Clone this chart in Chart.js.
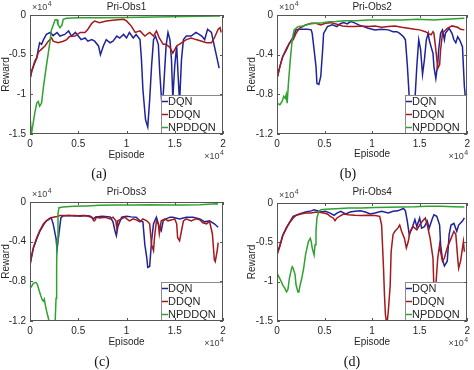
<!DOCTYPE html>
<html>
<head>
<meta charset="utf-8">
<script src="https://cdn.jsdelivr.net/npm/chart.js@4.4.1/dist/chart.umd.min.js"></script>
<style>
  html, body { margin: 0; padding: 0; background: #fff; }
  #wrap { position: relative; width: 474px; height: 370px; overflow: hidden; }
  canvas { position: absolute; }
  .cap { position: absolute; transform: translate(-50%, -50%); font-family: "Liberation Serif", "DejaVu Serif", serif; font-size: 14px; color: #111; }
</style>
</head>
<body>
<div id="wrap">
  <canvas id="cA" width="237" height="185" style="left:0;top:0"></canvas>
  <canvas id="cB" width="237" height="185" style="left:237px;top:0"></canvas>
  <canvas id="cC" width="237" height="185" style="left:0;top:185px"></canvas>
  <canvas id="cD" width="237" height="185" style="left:237px;top:185px"></canvas>
  <div class="cap" style="left:99px;top:174px">(a)</div>
  <div class="cap" style="left:348px;top:174px">(b)</div>
  <div class="cap" style="left:102px;top:362px">(c)</div>
  <div class="cap" style="left:352px;top:362px">(d)</div>
</div>
<script>
// episodes in units of 1e4, reward in units of 1e4
const X_TICKS = [0, 0.5, 1, 1.5, 2];
const Y_TICKS_15 = [0, -0.5, -1, -1.5];
const Y_TICKS_12 = [0, -0.4, -0.8, -1.2];
const SERIES = ['DQN', 'DDQN', 'NPDDQN'];
const COLORS = ['#1f239a', '#a3191c', '#2fa22f'];

// Pri-Obs1
const A_DQN = [[0,-0.8],[0.02,-0.7],[0.05,-0.6],[0.07,-0.54],[0.086,-0.43],[0.10,-0.35],[0.12,-0.37],[0.14,-0.31],[0.17,-0.245],[0.21,-0.22],[0.24,-0.26],[0.28,-0.22],[0.31,-0.265],[0.36,-0.245],[0.40,-0.2],[0.43,-0.265],[0.47,-0.22],[0.5,-0.265],[0.53,-0.31],[0.57,-0.29],[0.6,-0.33],[0.64,-0.31],[0.67,-0.33],[0.71,-0.39],[0.73,-0.5],[0.76,-0.39],[0.79,-0.31],[0.83,-0.35],[0.86,-0.33],[0.9,-0.265],[0.93,-0.29],[0.97,-0.245],[1.0,-0.29],[1.03,-0.22],[1.07,-0.29],[1.10,-0.245],[1.14,-0.31],[1.155,-0.56],[1.17,-0.94],[1.197,-1.32],[1.22,-1.41],[1.24,-1.07],[1.26,-0.64],[1.28,-0.31],[1.30,-0.265],[1.33,-0.37],[1.345,-0.73],[1.37,-1.19],[1.386,-0.9],[1.41,-0.39],[1.43,-0.22],[1.45,-0.31],[1.466,-0.56],[1.48,-1.05],[1.5,-0.64],[1.52,-0.39],[1.535,-0.77],[1.55,-1.1],[1.57,-0.56],[1.59,-0.31],[1.62,-0.265],[1.67,-0.265],[1.72,-0.22],[1.78,-0.265],[1.81,-0.31],[1.84,-0.18],[1.88,-0.22],[1.91,-0.39],[1.93,-0.5],[1.96,-0.67]];
const A_DDQN = [[0,-0.81],[0.017,-0.71],[0.034,-0.645],[0.05,-0.58],[0.07,-0.54],[0.086,-0.47],[0.12,-0.43],[0.155,-0.39],[0.19,-0.33],[0.224,-0.29],[0.24,-0.33],[0.29,-0.35],[0.345,-0.33],[0.38,-0.31],[0.41,-0.27],[0.466,-0.265],[0.52,-0.22],[0.57,-0.22],[0.6,-0.18],[0.64,-0.105],[0.67,-0.076],[0.72,-0.097],[0.79,-0.076],[0.88,-0.063],[0.97,-0.055],[1.0,-0.075],[1.05,-0.14],[1.09,-0.22],[1.14,-0.2],[1.19,-0.265],[1.24,-0.22],[1.28,-0.265],[1.31,-0.2],[1.34,-0.29],[1.38,-0.37],[1.41,-0.37],[1.45,-0.41],[1.48,-0.48],[1.52,-0.39],[1.57,-0.35],[1.62,-0.31],[1.67,-0.29],[1.72,-0.31],[1.78,-0.33],[1.83,-0.35],[1.88,-0.35],[1.91,-0.29],[1.95,-0.18],[1.97,-0.16],[1.98,-0.22]];
const A_NPDDQN = [[0,-1.27],[0.015,-1.5],[0.05,-1.23],[0.07,-1.11],[0.086,-1.09],[0.10,-1.15],[0.12,-1.11],[0.14,-0.9],[0.17,-0.64],[0.21,-0.31],[0.22,-0.2],[0.24,-0.13],[0.26,-0.06],[0.28,-0.06],[0.29,-0.12],[0.31,-0.16],[0.33,-0.13],[0.345,-0.055],[0.38,-0.04],[0.5,-0.035],[0.72,-0.034],[1.0,-0.03],[1.3,-0.025],[1.6,-0.02],[1.97,-0.013]];

// Pri-Obs2
const B_DQN = [[0,-0.64],[0.03,-0.52],[0.06,-0.42],[0.1,-0.35],[0.13,-0.285],[0.17,-0.22],[0.2,-0.15],[0.235,-0.144],[0.27,-0.144],[0.32,-0.144],[0.36,-0.15],[0.37,-0.185],[0.39,-0.35],[0.41,-0.52],[0.42,-0.69],[0.44,-0.7],[0.46,-0.62],[0.48,-0.35],[0.49,-0.185],[0.53,-0.117],[0.58,-0.1],[0.63,-0.117],[0.66,-0.09],[0.70,-0.077],[0.74,-0.09],[0.77,-0.067],[0.81,-0.077],[0.86,-0.1],[0.91,-0.117],[0.96,-0.134],[1.03,-0.15],[1.1,-0.144],[1.17,-0.15],[1.22,-0.168],[1.26,-0.168],[1.29,-0.185],[1.33,-0.22],[1.35,-0.25],[1.37,-0.5],[1.39,-0.82],[1.41,-0.95],[1.45,-0.86],[1.47,-0.52],[1.49,-0.25],[1.51,-0.35],[1.53,-0.6],[1.55,-0.45],[1.57,-0.25],[1.59,-0.185],[1.6,-0.25],[1.62,-0.32],[1.64,-0.385],[1.65,-0.52],[1.67,-0.64],[1.69,-0.49],[1.7,-0.35],[1.72,-0.185],[1.74,-0.15],[1.76,-0.25],[1.77,-0.185],[1.81,-0.134],[1.84,-0.185],[1.86,-0.25],[1.88,-0.28],[1.9,-0.22],[1.92,-0.25],[1.95,-0.32],[1.97,-0.72],[1.98,-0.82]];
const B_DDQN = [[0,-0.64],[0.03,-0.52],[0.06,-0.42],[0.1,-0.335],[0.13,-0.285],[0.17,-0.25],[0.2,-0.185],[0.235,-0.134],[0.27,-0.117],[0.3,-0.1],[0.36,-0.084],[0.41,-0.084],[0.46,-0.1],[0.51,-0.084],[0.56,-0.077],[0.62,-0.09],[0.69,-0.11],[0.75,-0.117],[0.82,-0.117],[0.89,-0.11],[0.96,-0.117],[1.03,-0.11],[1.1,-0.124],[1.17,-0.117],[1.24,-0.11],[1.31,-0.124],[1.38,-0.134],[1.45,-0.144],[1.5,-0.15],[1.56,-0.168],[1.59,-0.185],[1.62,-0.2],[1.64,-0.168],[1.65,-0.185],[1.67,-0.35],[1.69,-0.54],[1.71,-0.5],[1.72,-0.35],[1.74,-0.185],[1.79,-0.134],[1.84,-0.11],[1.9,-0.124],[1.93,-0.144],[1.97,-0.15]];
const B_NPDDQN = [[0,-0.89],[0.03,-0.905],[0.055,-0.87],[0.07,-0.82],[0.087,-0.84],[0.097,-0.8],[0.107,-0.89],[0.12,-0.69],[0.14,-0.45],[0.16,-0.25],[0.18,-0.15],[0.22,-0.117],[0.27,-0.11],[0.34,-0.09],[0.41,-0.084],[0.48,-0.077],[0.55,-0.067],[0.62,-0.065],[0.72,-0.057],[0.82,-0.057],[0.96,-0.05],[1.13,-0.05],[1.31,-0.05],[1.48,-0.044],[1.65,-0.05],[1.72,-0.046],[1.83,-0.04],[1.97,-0.034]];

// Pri-Obs3
const C_DQN = [[0,-0.64],[0.017,-0.55],[0.034,-0.47],[0.07,-0.37],[0.10,-0.3],[0.14,-0.23],[0.17,-0.19],[0.22,-0.16],[0.24,-0.22],[0.27,-0.37],[0.28,-0.48],[0.30,-0.32],[0.32,-0.16],[0.34,-0.14],[0.4,-0.136],[0.47,-0.14],[0.55,-0.136],[0.62,-0.14],[0.66,-0.17],[0.68,-0.15],[0.75,-0.143],[0.83,-0.15],[0.86,-0.2],[0.88,-0.29],[0.895,-0.34],[0.91,-0.25],[0.95,-0.153],[1.0,-0.143],[1.05,-0.15],[1.1,-0.153],[1.14,-0.19],[1.17,-0.2],[1.19,-0.43],[1.21,-0.56],[1.22,-0.66],[1.24,-0.65],[1.26,-0.39],[1.28,-0.22],[1.31,-0.153],[1.34,-0.255],[1.36,-0.29],[1.38,-0.19],[1.41,-0.17],[1.45,-0.153],[1.48,-0.153],[1.55,-0.17],[1.62,-0.153],[1.69,-0.153],[1.76,-0.17],[1.81,-0.2],[1.86,-0.19],[1.91,-0.22],[1.95,-0.255]];
const C_DDQN = [[0,-0.63],[0.017,-0.54],[0.034,-0.46],[0.07,-0.36],[0.10,-0.29],[0.14,-0.22],[0.17,-0.19],[0.21,-0.16],[0.24,-0.153],[0.28,-0.146],[0.31,-0.136],[0.36,-0.136],[0.41,-0.136],[0.47,-0.136],[0.52,-0.143],[0.57,-0.136],[0.6,-0.143],[0.64,-0.153],[0.66,-0.19],[0.67,-0.19],[0.69,-0.153],[0.72,-0.16],[0.78,-0.153],[0.83,-0.17],[0.86,-0.153],[0.89,-0.19],[0.9,-0.27],[0.91,-0.19],[0.95,-0.17],[0.98,-0.153],[1.03,-0.19],[1.07,-0.17],[1.1,-0.18],[1.14,-0.2],[1.17,-0.17],[1.21,-0.19],[1.24,-0.22],[1.26,-0.43],[1.28,-0.49],[1.29,-0.36],[1.31,-0.19],[1.33,-0.22],[1.34,-0.32],[1.36,-0.19],[1.40,-0.17],[1.43,-0.19],[1.47,-0.18],[1.5,-0.17],[1.52,-0.22],[1.53,-0.36],[1.55,-0.39],[1.57,-0.29],[1.59,-0.19],[1.62,-0.17],[1.67,-0.19],[1.72,-0.17],[1.76,-0.18],[1.79,-0.21],[1.83,-0.22],[1.86,-0.195],[1.89,-0.32],[1.91,-0.58],[1.92,-0.6],[1.94,-0.49],[1.95,-0.41]];
const C_NPDDQN = [[0,-0.87],[0.017,-0.85],[0.034,-0.82],[0.06,-0.81],[0.076,-0.83],[0.097,-0.9],[0.11,-0.94],[0.128,-0.99],[0.138,-1.0],[0.148,-0.98],[0.159,-1.04],[0.172,-1.1],[0.19,-1.17],[0.2,-1.22],[0.22,-1.35],[0.25,-1.3],[0.26,-1.22],[0.27,-0.97],[0.276,-0.66],[0.28,-0.39],[0.29,-0.12],[0.30,-0.058],[0.34,-0.05],[0.45,-0.044],[0.59,-0.04],[0.72,-0.034],[0.9,-0.03],[1.07,-0.03],[1.24,-0.027],[1.41,-0.03],[1.59,-0.03],[1.76,-0.027],[1.93,-0.017],[1.95,-0.02]];

// Pri-Obs4
const D_DQN = [[0,-0.65],[0.03,-0.54],[0.06,-0.41],[0.1,-0.31],[0.13,-0.25],[0.17,-0.17],[0.235,-0.14],[0.3,-0.115],[0.36,-0.1],[0.39,-0.085],[0.43,-0.1],[0.46,-0.115],[0.51,-0.105],[0.56,-0.128],[0.6,-0.157],[0.63,-0.128],[0.67,-0.105],[0.72,-0.14],[0.77,-0.115],[0.82,-0.105],[0.875,-0.1],[0.93,-0.115],[0.98,-0.14],[1.03,-0.128],[1.1,-0.105],[1.17,-0.128],[1.22,-0.105],[1.27,-0.1],[1.33,-0.07],[1.35,-0.1],[1.37,-0.23],[1.39,-0.4],[1.42,-0.32],[1.45,-0.21],[1.47,-0.3],[1.5,-0.19],[1.52,-0.32],[1.55,-0.3],[1.58,-0.23],[1.6,-0.32],[1.63,-0.21],[1.65,-0.15],[1.68,-0.17],[1.71,-0.28],[1.72,-0.53],[1.74,-0.72],[1.76,-0.8],[1.79,-0.74],[1.81,-0.4],[1.83,-0.28],[1.86,-0.26],[1.89,-0.36],[1.91,-0.28],[1.95,-0.23],[1.97,-0.19]];
const D_DDQN = [[0,-0.66],[0.03,-0.55],[0.06,-0.42],[0.1,-0.32],[0.13,-0.255],[0.17,-0.19],[0.2,-0.157],[0.25,-0.14],[0.3,-0.128],[0.36,-0.128],[0.41,-0.115],[0.46,-0.12],[0.49,-0.128],[0.53,-0.14],[0.56,-0.17],[0.59,-0.19],[0.61,-0.225],[0.63,-0.19],[0.67,-0.16],[0.70,-0.14],[0.75,-0.15],[0.82,-0.157],[0.89,-0.16],[0.96,-0.157],[1.03,-0.16],[1.08,-0.17],[1.1,-0.28],[1.12,-0.83],[1.13,-1.17],[1.14,-1.42],[1.156,-1.55],[1.17,-1.38],[1.19,-1.05],[1.2,-0.62],[1.22,-0.4],[1.24,-0.36],[1.27,-0.32],[1.29,-0.28],[1.31,-0.36],[1.34,-0.45],[1.36,-0.57],[1.38,-0.49],[1.40,-0.36],[1.43,-0.3],[1.45,-0.32],[1.47,-0.34],[1.5,-0.28],[1.53,-0.23],[1.56,-0.19],[1.58,-0.28],[1.61,-0.45],[1.64,-0.7],[1.65,-1.1],[1.67,-1.05],[1.69,-0.7],[1.71,-0.53],[1.72,-0.62],[1.74,-0.74],[1.76,-0.7],[1.79,-0.57],[1.83,-0.45],[1.86,-0.36],[1.88,-0.4],[1.90,-0.7],[1.91,-0.83],[1.93,-0.74],[1.96,-0.49],[1.97,-0.62]];
const D_NPDDQN = [[0,-0.89],[0.02,-0.94],[0.045,-1.0],[0.06,-1.04],[0.08,-1.08],[0.1,-1.13],[0.115,-1.1],[0.13,-0.96],[0.15,-0.85],[0.16,-0.81],[0.17,-0.83],[0.19,-0.91],[0.2,-1.04],[0.22,-1.13],[0.23,-1.13],[0.24,-1.06],[0.26,-0.96],[0.28,-0.83],[0.30,-0.66],[0.33,-0.49],[0.35,-0.45],[0.36,-0.49],[0.37,-0.57],[0.39,-0.66],[0.40,-0.53],[0.41,-0.36],[0.42,-0.19],[0.44,-0.106],[0.46,-0.085],[0.51,-0.08],[0.62,-0.072],[0.75,-0.064],[0.89,-0.064],[1.03,-0.057],[1.17,-0.053],[1.31,-0.05],[1.45,-0.047],[1.58,-0.04],[1.72,-0.04],[1.86,-0.047],[1.97,-0.05]];

const FONT = '"Liberation Sans", Arial, sans-serif';
const INK = '#262626';
Chart.defaults.font.family = FONT;
Chart.defaults.font.size = 10;
Chart.defaults.color = INK;

// matlab look: boxed axes, inward ticks, legend in the lower right, title and x10^4 marks
const matlabFrame = {
  id: 'matlabFrame',
  afterDatasetsDraw(chart) {
    const { ctx, chartArea: ca } = chart;
    const w = 62, h = 39;
    const x0 = Math.round(ca.right) - w, y0 = Math.round(ca.bottom) - h;
    ctx.save();
    ctx.fillStyle = '#fff';
    ctx.fillRect(x0, y0, w, h);
    ctx.strokeStyle = '#8a8a8a';
    ctx.lineWidth = 1;
    ctx.strokeRect(x0 + 0.5, y0 + 0.5, w - 1, h - 1);
    ctx.font = '11px ' + FONT;
    ctx.textBaseline = 'middle';
    chart.data.datasets.forEach((ds, i) => {
      const yy = y0 + 6.5 + i * 13;
      ctx.strokeStyle = ds.borderColor;
      ctx.lineWidth = 1.5;
      ctx.beginPath();
      ctx.moveTo(x0 + 1, yy);
      ctx.lineTo(x0 + 7, yy);
      ctx.stroke();
      ctx.fillStyle = INK;
      ctx.fillText(ds.label, x0 + 7, yy);
    });
    ctx.restore();
  },
  afterDraw(chart, args, opts) {
    const { ctx, chartArea: ca, scales } = chart;
    ctx.save();
    ctx.strokeStyle = '#555';
    ctx.lineWidth = 1;
    ctx.strokeRect(Math.round(ca.left) + 0.5, Math.round(ca.top) + 0.5, Math.round(ca.right - ca.left) - 1, Math.round(ca.bottom - ca.top) - 1);
    ctx.beginPath();
    scales.x.ticks.forEach(t => {
      const px = Math.round(scales.x.getPixelForValue(t.value)) + 0.5;
      ctx.moveTo(px, ca.bottom); ctx.lineTo(px, ca.bottom - 3);
      ctx.moveTo(px, ca.top); ctx.lineTo(px, ca.top + 3);
    });
    scales.y.ticks.forEach(t => {
      const py = Math.round(scales.y.getPixelForValue(t.value)) + 0.5;
      ctx.moveTo(ca.left, py); ctx.lineTo(ca.left + 3, py);
      ctx.moveTo(ca.right, py); ctx.lineTo(ca.right - 3, py);
    });
    ctx.stroke();

    ctx.fillStyle = INK;
    ctx.textBaseline = 'middle';
    ctx.textAlign = 'center';
    ctx.font = '10px ' + FONT;
    ctx.fillText(opts.title, (ca.left + ca.right) / 2, 7);

    // exponent labels
    ctx.fillStyle = '#444';
    ctx.textBaseline = 'alphabetic';
    ctx.textAlign = 'left';
    ctx.font = '9px ' + FONT;
    const tx = ca.left + 2, ty = ca.top - 5;
    ctx.fillText('×10', tx, ty);
    const w1 = ctx.measureText('×10').width;
    ctx.font = '7px ' + FONT;
    ctx.fillText('4', tx + w1 + 0.5, ty - 4);

    ctx.font = '7px ' + FONT;
    const w4 = ctx.measureText('4').width;
    const bx = ca.right + 1 - w4, by = ca.bottom + 25;
    ctx.fillText('4', bx, by - 4);
    ctx.font = '9px ' + FONT;
    ctx.textAlign = 'right';
    ctx.fillText('×10', bx - 0.5, by);
    ctx.restore();
  }
};

function makeChart(id, title, series, yTicks, pad) {
  const datasets = series.map((pts, i) => ({
    label: SERIES[i],
    data: pts.map(p => ({ x: p[0], y: p[1] })),
    borderColor: COLORS[i],
    borderWidth: 1.5,
    pointRadius: 0,
    tension: 0,
    fill: false,
    order: series.length - 1 - i
  }));
  const fmt = v => String(Math.round(v * 10) / 10);
  return new Chart(document.getElementById(id), {
    type: 'line',
    data: { datasets },
    plugins: [matlabFrame],
    options: {
      responsive: false,
      animation: false,
      events: [],
      layout: { padding: { left: 0, right: pad.r, top: pad.t, bottom: 0 } },
      plugins: { legend: { display: false }, tooltip: { enabled: false }, matlabFrame: { title } },
      scales: {
        x: {
          type: 'linear', min: 0, max: 2,
          afterBuildTicks: s => { s.ticks = X_TICKS.map(v => ({ value: v })); },
          afterFit: s => { s.height = pad.xh; },
          grid: { display: false, drawTicks: false },
          border: { display: false },
          ticks: { padding: 4, maxRotation: 0, autoSkip: false, callback: fmt },
          title: { display: true, text: 'Episode', padding: { top: 0, bottom: pad.xt } }
        },
        y: {
          type: 'linear', min: yTicks[yTicks.length - 1], max: 0,
          afterBuildTicks: s => { s.ticks = yTicks.map(v => ({ value: v })); },
          afterFit: s => { s.width = pad.l; },
          grid: { display: false, drawTicks: false },
          border: { display: false },
          ticks: { padding: 4, autoSkip: false, callback: fmt },
          title: { display: true, text: 'Reward', padding: { top: pad.yt, bottom: 0 } }
        }
      }
    }
  });
}

makeChart('cA', 'Pri-Obs1', [A_DQN, A_DDQN, A_NPDDQN], Y_TICKS_15, { l: 30, r: 14, t: 15, xh: 51, xt: 24, yt: 0 });
makeChart('cB', 'Pri-Obs2', [B_DQN, B_DDQN, B_NPDDQN], Y_TICKS_12, { l: 40, r: 4, t: 15, xh: 51, xt: 25, yt: 9 });
makeChart('cC', 'Pri-Obs3', [C_DQN, C_DDQN, C_NPDDQN], Y_TICKS_12, { l: 30, r: 14, t: 17, xh: 49, xt: 22, yt: 0 });
makeChart('cD', 'Pri-Obs4', [D_DQN, D_DDQN, D_NPDDQN], Y_TICKS_15, { l: 40, r: 4, t: 18, xh: 49, xt: 22, yt: 9 });
</script>
</body>
</html>
